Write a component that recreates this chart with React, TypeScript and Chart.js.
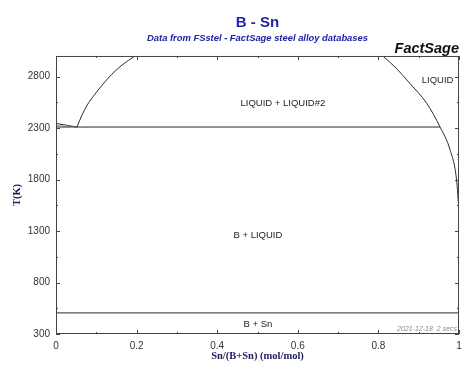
import { useEffect, useRef } from 'react';
import { Chart, registerables } from 'chart.js';

Chart.register(...registerables);

// ---- data ----
const xTickValues = [0, 0.2, 0.4, 0.6, 0.8, 1];
const xTickLabels = ['0', '0.2', '0.4', '0.6', '0.8', '1'];
const yTickValues = [300, 800, 1300, 1800, 2300, 2800];
const xMinorTicks = [0.1, 0.3, 0.5, 0.7, 0.9];
const yMinorTicks = [550, 1050, 1550, 2050, 2550];

const monotecticX = [0, 0.953];
const monotecticT = [2310, 2310];
const eutecticX = [0, 1];
const eutecticT = [505, 505];
const bLiquidusX = [0, 0.052];
const bLiquidusT = [2345, 2310];
const bLiquidus2X = [0, 0.046];
const bLiquidus2T = [2326, 2314];
const gapLeftX = [0.052, 0.0645, 0.079, 0.0968, 0.1166, 0.139, 0.164, 0.196];
const gapLeftT = [2310, 2426, 2533, 2630, 2727, 2824, 2912, 3000];
const gapRightX = [0.811, 0.844, 0.878, 0.92, 0.953, 0.978, 0.994, 1.0];
const gapRightT = [3000, 2882, 2734, 2540, 2310, 2086, 1795, 1485];

const regionLabels = ['LIQUID + LIQUID#2', 'LIQUID', 'B + LIQUID', 'B + Sn'];
const regionX = [0.563, 0.947, 0.501, 0.501];
const regionT = [2543, 2766, 1261, 397];

const titleText = 'B - Sn';
const subtitleText = 'Data from FSstel - FactSage steel alloy databases';
const brandText = 'FactSage';
const stampText = '2021-12-18  2 secs';
const xTitle = 'Sn/(B+Sn) (mol/mol)';
const yTitle = 'T(K)';

const SANS = '"Liberation Sans", Arial, sans-serif';
const SERIF = '"Liberation Serif", "Times New Roman", serif';

const toPts = (xs: number[], ys: number[]) => xs.map((x, i) => ({ x, y: ys[i] }));

const framePlugin = {
  id: 'frame',
  afterDatasetsDraw(chart: any) {
    const { ctx, chartArea: a, scales } = chart;
    const xs = scales.x;
    const ys = scales.y;
    ctx.save();
    ctx.strokeStyle = '#444';
    ctx.lineWidth = 1;
    ctx.strokeRect(a.left + 0.5, a.top + 0.5, a.right - a.left - 1, a.bottom - a.top - 1);
    ctx.beginPath();
    const xt = (v: number, len: number) => {
      const px = Math.round(xs.getPixelForValue(v)) + 0.5;
      ctx.moveTo(px, a.bottom);
      ctx.lineTo(px, a.bottom - len);
      ctx.moveTo(px, a.top);
      ctx.lineTo(px, a.top + len);
    };
    const yt = (v: number, len: number) => {
      const py = Math.round(ys.getPixelForValue(v)) + 0.5;
      ctx.moveTo(a.left, py);
      ctx.lineTo(a.left + len, py);
      ctx.moveTo(a.right, py);
      ctx.lineTo(a.right - len, py);
    };
    xTickValues.forEach((v) => xt(v, 4));
    xMinorTicks.forEach((v) => xt(v, 2));
    yTickValues.forEach((v) => yt(v, 4));
    yMinorTicks.forEach((v) => yt(v, 2));
    ctx.stroke();

    ctx.fillStyle = '#222';
    ctx.font = `9.5px ${SANS}`;
    ctx.textAlign = 'center';
    ctx.textBaseline = 'middle';
    regionLabels.forEach((t, i) => {
      ctx.fillText(t, xs.getPixelForValue(regionX[i]), ys.getPixelForValue(regionT[i]));
    });

    ctx.fillStyle = '#888';
    ctx.font = `italic 7px ${SANS}`;
    ctx.textAlign = 'right';
    ctx.fillText(stampText, xs.getPixelForValue(0.995), ys.getPixelForValue(352));

    ctx.fillStyle = '#111';
    ctx.font = `italic bold 14.5px ${SANS}`;
    ctx.textAlign = 'right';
    ctx.textBaseline = 'alphabetic';
    ctx.fillText(brandText, a.right, 53);
    ctx.restore();
  },
};

export default function App() {
  const ref = useRef<HTMLCanvasElement | null>(null);
  useEffect(() => {
    document.body.style.margin = '0';
    const canvas = ref.current!;
    const lineDs = (xs: number[], ys: number[], color = '#2a2a2a', smooth = false) => ({
      data: toPts(xs, ys),
      showLine: true,
      borderColor: color,
      borderWidth: 1,
      pointRadius: 0,
      fill: false,
      cubicInterpolationMode: smooth ? 'monotone' : 'default',
    });
    const chart = new Chart(canvas, {
      type: 'scatter',
      data: {
        datasets: [
          lineDs(monotecticX, monotecticT),
          lineDs(eutecticX, eutecticT),
          lineDs(bLiquidus2X, bLiquidus2T, '#aaa'),
          lineDs(bLiquidusX, bLiquidusT),
          lineDs(gapLeftX, gapLeftT, '#2a2a2a', true),
          lineDs(gapRightX, gapRightT, '#2a2a2a', true),
        ] as any,
      },
      options: {
        animation: false,
        responsive: false,
        devicePixelRatio: 1,
        layout: { padding: { left: 0, right: 15, top: 0, bottom: 0 } },
        plugins: {
          legend: { display: false },
          tooltip: { enabled: false },
          title: {
            display: true,
            fullSize: false,
            text: titleText,
            color: '#2424a8',
            font: { family: SANS, size: 15, weight: 'bold' },
            padding: { top: 14, bottom: 0 },
          },
          subtitle: {
            display: true,
            fullSize: false,
            text: subtitleText,
            color: '#2020a0',
            font: { family: SANS, size: 9.4, weight: 'bold', style: 'italic' },
            padding: { top: 0.4, bottom: 12.3 },
          },
        },
        scales: {
          x: {
            type: 'linear',
            min: 0,
            max: 1,
            grid: { display: false, drawTicks: false },
            border: { display: false },
            afterBuildTicks: (s: any) => {
              s.ticks = xTickValues.map((v) => ({ value: v }));
            },
            afterFit: (s: any) => {
              s.height = 39;
            },
            ticks: {
              autoSkip: false,
              maxRotation: 0,
              padding: 6,
              color: '#333',
              font: { family: SANS, size: 10 },
              callback: (v: any) => xTickLabels[xTickValues.indexOf(Number(v))] ?? '',
            },
            title: {
              display: true,
              text: xTitle,
              color: '#1c1c5e',
              font: { family: SERIF, size: 10.5, weight: 'bold' },
              padding: 10,
            },
          },
          y: {
            type: 'linear',
            min: 300,
            max: 3000,
            grid: { display: false, drawTicks: false },
            border: { display: false },
            afterBuildTicks: (s: any) => {
              s.ticks = yTickValues.map((v) => ({ value: v }));
            },
            afterFit: (s: any) => {
              s.width = 56;
            },
            ticks: {
              autoSkip: false,
              padding: 6,
              color: '#333',
              font: { family: SANS, size: 10 },
              callback: (v: any) => String(v),
            },
            title: {
              display: true,
              text: yTitle,
              color: '#1c1c5e',
              font: { family: SERIF, size: 10.5, weight: 'bold' },
              padding: 11,
            },
          },
        },
      } as any,
      plugins: [framePlugin],
    });
    return () => chart.destroy();
  }, []);
  return <canvas ref={ref} width={474} height={373} style={{ display: 'block', width: 474, height: 373 }} />;
}
